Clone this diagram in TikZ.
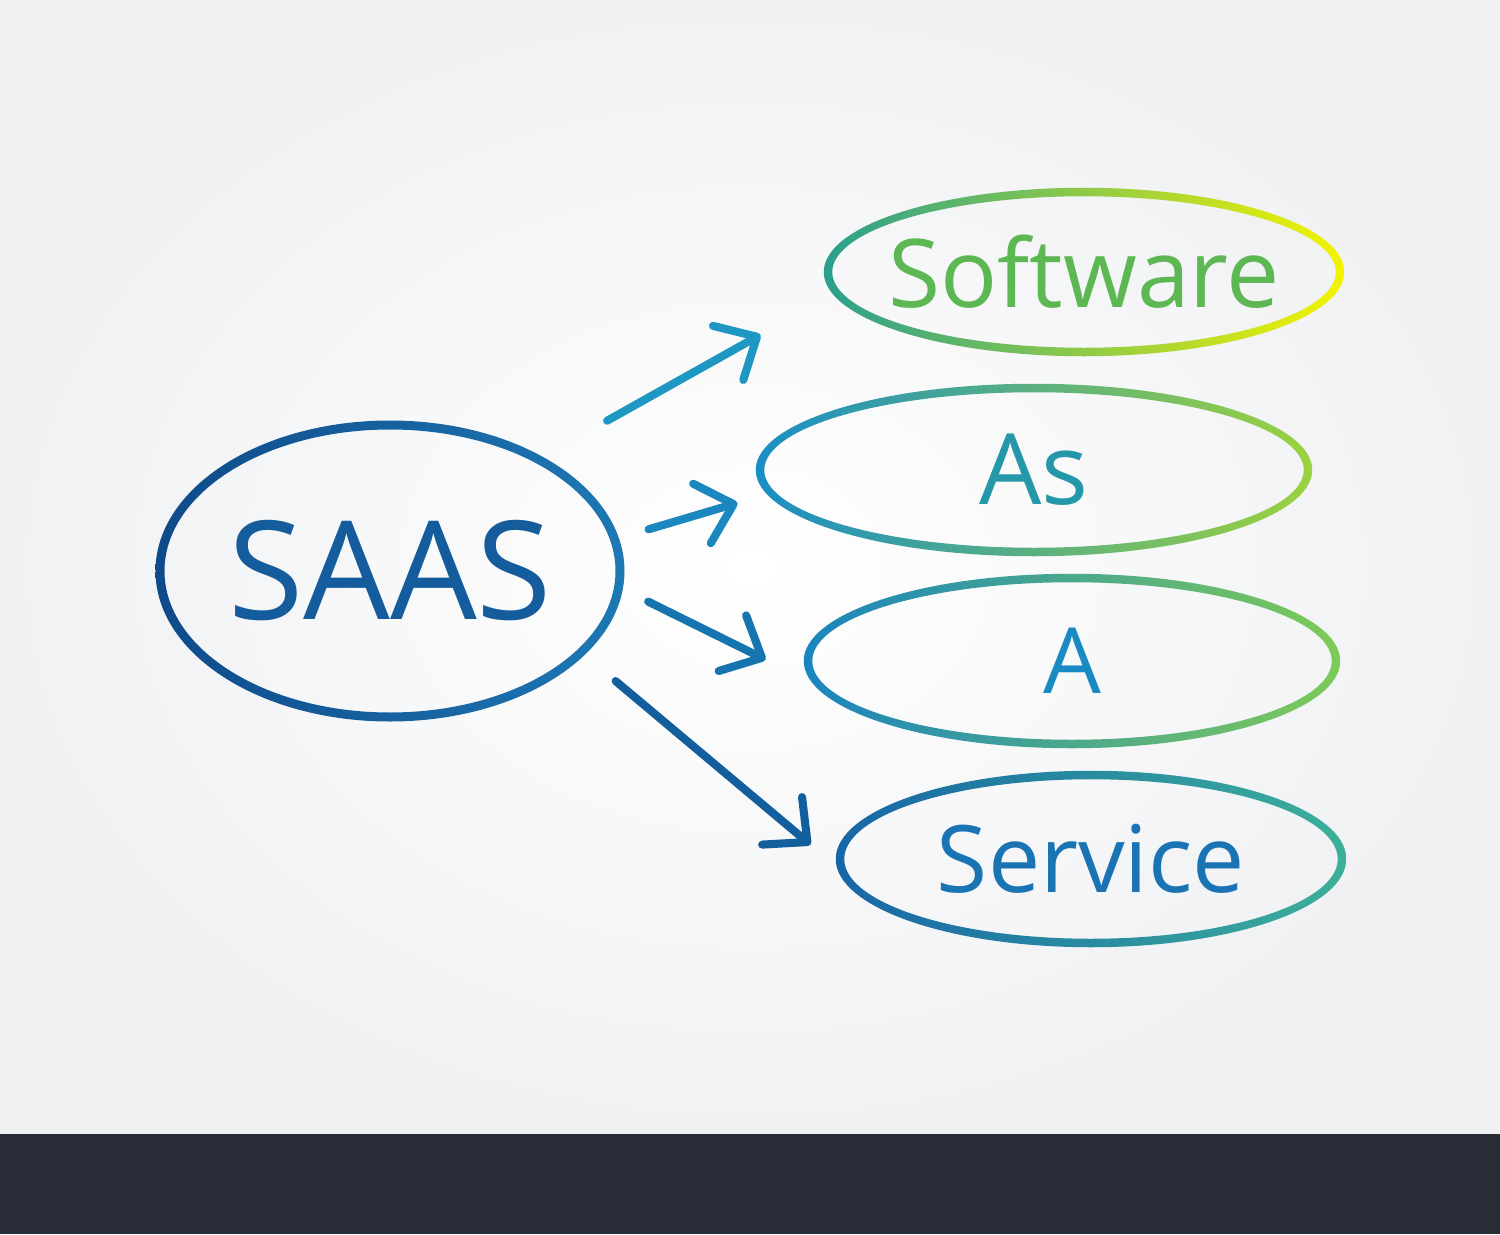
\documentclass[tikz,border=0pt]{standalone}
\usepackage{fontspec}
\setsansfont{Open Sans}
\usetikzlibrary{shapes.geometric}
\usetikzlibrary{arrows.meta}

\definecolor{bggray}{HTML}{F0F1F3}
\definecolor{barcol}{HTML}{282C37}
\definecolor{saasdark}{HTML}{0F4A8A}
\definecolor{saaslight}{HTML}{1D78B4}
\definecolor{saastext}{HTML}{155C9C}
\definecolor{softtext}{HTML}{5DB854}
\definecolor{astext}{HTML}{2497A8}
\definecolor{atext}{HTML}{1A8AC2}
\definecolor{servtext}{HTML}{1A74B4}
\definecolor{arrA}{HTML}{1E98C2}
\definecolor{arrB}{HTML}{1A88BE}
\definecolor{arrC}{HTML}{1674AE}
\definecolor{arrD}{HTML}{135F9E}
% ring colours: left, middle, right
\definecolor{softL}{HTML}{2A9F8E}
\definecolor{softM}{HTML}{74C244}
\definecolor{softR}{HTML}{F4F400}
\definecolor{asL}{HTML}{1A8EC4}
\definecolor{asM}{HTML}{35AAA4}
\definecolor{asR}{HTML}{9CD23E}
\definecolor{aL}{HTML}{1A84BF}
\definecolor{aM}{HTML}{2FA3B0}
\definecolor{aR}{HTML}{7ECB58}
\definecolor{servL}{HTML}{1766A6}
\definecolor{servM}{HTML}{1C86BC}
\definecolor{servR}{HTML}{3CB09A}

\tikzset{
  bubble/.style={ellipse, inner sep=0pt, outer sep=0pt, font=\sffamily},
  arr/.style={line width=2.3pt, line cap=round,
    -{Straight Barb[length=3.3mm,width=6.2mm,line cap=round,line join=round]}},
}

% ring round a bubble: name, x radius, y radius, width, shading
\newcommand{\ringat}[5]{%
  \shade[#5, even odd rule]
    (#1.center) ellipse [x radius=#2+#4/2, y radius=#3+#4/2]
    (#1.center) ellipse [x radius=#2-#4/2, y radius=#3-#4/2];}

\begin{document}
\begin{tikzpicture}
    \useasboundingbox (0,0) rectangle (15,12.34);

    %%% Background %%%
    \shade[inner color=white, outer color=bggray] (0,1) rectangle (15,12.34);
    \fill[barcol] (0,0) rectangle (15,1);

    %%% Bubbles %%%
    \node[bubble, minimum width=4.60cm, minimum height=2.92cm, text=saastext,
          font=\sffamily\fontsize{39}{40}\selectfont] (saas) at (3.90,6.63) {SAAS};
    \node[bubble, minimum width=5.12cm, minimum height=1.60cm, text=softtext,
          font=\sffamily\fontsize{27}{30}\selectfont] (soft) at (10.84,9.62) {Software};
    \node[bubble, minimum width=5.48cm, minimum height=1.64cm, text=astext,
          font=\sffamily\fontsize{28}{30}\selectfont] (as) at (10.34,7.64) {As};
    \node[bubble, minimum width=5.28cm, minimum height=1.66cm, text=atext,
          font=\sffamily\fontsize{26}{30}\selectfont] (a) at (10.72,5.73) {A};
    \node[bubble, minimum width=5.02cm, minimum height=1.68cm, text=servtext,
          font=\sffamily\fontsize{26.5}{30}\selectfont] (serv) at (10.91,3.75) {Service};

    %%% Rings %%%
    \ringat{saas}{2.30cm}{1.46cm}{0.09cm}{left color=saasdark, right color=saaslight}
    \ringat{soft}{2.56cm}{0.80cm}{0.085cm}{left color=softL, middle color=softM, right color=softR}
    \ringat{as}{2.74cm}{0.82cm}{0.085cm}{left color=asL, middle color=asM, right color=asR}
    \ringat{a}{2.64cm}{0.83cm}{0.085cm}{left color=aL, middle color=aM, right color=aR}
    \ringat{serv}{2.51cm}{0.84cm}{0.085cm}{left color=servL, middle color=servM, right color=servR}

    %%% Arrows %%%
    \draw[arr, arrA, shorten <=0.79cm, shorten >=0.725cm] (saas.37) -- (soft.186.3);   % 1
    \draw[arr, arrB, shorten <=0.355cm, shorten >=0.35cm] (saas.8.6) -- (as.185.2);   % 2
    \draw[arr, arrC, shorten <=0.33cm, shorten >=0.625cm] (saas.-4.6) -- (a.186.6);   % 3
    \draw[arr, arrD, shorten <=0.45cm, shorten >=0.425cm] (saas.-23.65) -- (serv.183.8); % 4
\end{tikzpicture}
\end{document}
